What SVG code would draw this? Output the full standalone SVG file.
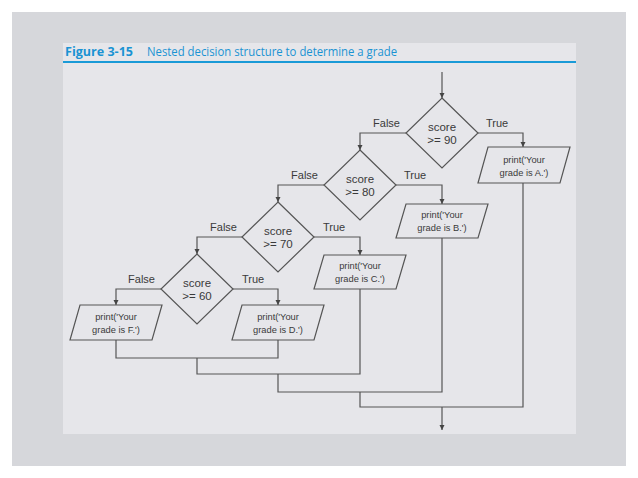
<svg xmlns="http://www.w3.org/2000/svg" width="638" height="478" viewBox="0 0 638 478">
<defs>
<style>
.dia{fill:none;stroke:#555;stroke-width:1.2}
.box{fill:none;stroke:#555;stroke-width:1.2}
.ln{fill:none;stroke:#555;stroke-width:1.2}
.lab{font-family:"Liberation Sans",Arial,sans-serif;font-size:11px;fill:#3a3a3a}
.cond{font-family:"Liberation Sans",Arial,sans-serif;font-size:11.5px;fill:#3a3a3a;text-anchor:middle}
.pr{font-family:"Liberation Sans",Arial,sans-serif;font-size:9.3px;fill:#3a3a3a;text-anchor:middle}
.ttl{font-family:"Open Sans","Liberation Sans",sans-serif;font-size:12.5px;fill:#1a93d3}
</style>
<marker id="ah" viewBox="0 0 10 10" refX="10" refY="5" markerWidth="5" markerHeight="6" markerUnits="userSpaceOnUse" orient="auto">
<path d="M0,0 L10,5 L0,10 z" fill="#444"/>
</marker>
</defs>
<rect x="0" y="0" width="638" height="478" fill="#ffffff"/>
<rect x="12" y="12" width="614" height="454" fill="#d6d7db"/>
<rect x="63" y="43" width="513" height="391" fill="#e6e6ea"/>
<g id="title">
<text class="ttl" x="65" y="56" font-weight="bold" textLength="68" lengthAdjust="spacingAndGlyphs">Figure 3-15</text>
<text class="ttl" x="147" y="56" textLength="250" lengthAdjust="spacingAndGlyphs">Nested decision structure to determine a grade</text>
<rect x="63" y="61" width="513" height="2" fill="#1a9ad7"/>
</g>
<g id="connectors">
<path class="ln" d="M442,72 V98" marker-end="url(#ah)"/>
<path class="ln" d="M478,133 H523 V147" marker-end="url(#ah)"/>
<path class="ln" d="M406,133 H360 V150" marker-end="url(#ah)"/>
<path class="ln" d="M396,185 H442 V204" marker-end="url(#ah)"/>
<path class="ln" d="M324,185 H278 V202" marker-end="url(#ah)"/>
<path class="ln" d="M314,237 H360 V255" marker-end="url(#ah)"/>
<path class="ln" d="M243,237 H197 V254" marker-end="url(#ah)"/>
<path class="ln" d="M233,289 H278 V305" marker-end="url(#ah)"/>
<path class="ln" d="M162,289 H116 V305" marker-end="url(#ah)"/>
<path class="ln" d="M116,340 V358 H278 V340"/>
<path class="ln" d="M197,358 V374 H360 V289"/>
<path class="ln" d="M278,374 V392 H442 V238"/>
<path class="ln" d="M360,392 V407 H523 V183"/>
<path class="ln" d="M442,407 V430" marker-end="url(#ah)"/>
<text class="lab" x="400" y="127" text-anchor="end">False</text>
<text class="lab" x="486" y="127">True</text>
<text class="lab" x="318" y="179" text-anchor="end">False</text>
<text class="lab" x="404" y="179">True</text>
<text class="lab" x="237" y="231" text-anchor="end">False</text>
<text class="lab" x="323" y="231">True</text>
<text class="lab" x="155" y="283" text-anchor="end">False</text>
<text class="lab" x="242" y="283">True</text>
</g>
<g id="d90">
<polygon class="dia" points="442,98 478,133 442,168 406,133"/>
<text class="cond" x="442" y="131">score</text>
<text class="cond" x="442" y="144">&gt;= 90</text>
</g>
<g id="d80">
<polygon class="dia" points="360,150 396,185 360,220 324,185"/>
<text class="cond" x="360" y="183">score</text>
<text class="cond" x="360" y="196">&gt;= 80</text>
</g>
<g id="d70">
<polygon class="dia" points="278,202 314,237 278,272 242,237"/>
<text class="cond" x="278" y="235">score</text>
<text class="cond" x="278" y="248">&gt;= 70</text>
</g>
<g id="d60">
<polygon class="dia" points="197,254 233,289 197,324 161,289"/>
<text class="cond" x="197" y="287">score</text>
<text class="cond" x="197" y="300">&gt;= 60</text>
</g>
<g id="pA">
<polygon class="box" points="488,147 570,147 560,183 478,183"/>
<text class="pr" x="524" y="163">print('Your</text>
<text class="pr" x="524" y="176">grade is A.')</text>
</g>
<g id="pB">
<polygon class="box" points="406,204 488,204 478,238 396,238"/>
<text class="pr" x="442" y="218">print('Your</text>
<text class="pr" x="442" y="231">grade is B.')</text>
</g>
<g id="pC">
<polygon class="box" points="324,255 406,255 396,289 314,289"/>
<text class="pr" x="360" y="269">print('Your</text>
<text class="pr" x="360" y="282">grade is C.')</text>
</g>
<g id="pD">
<polygon class="box" points="242,305 324,305 314,340 232,340"/>
<text class="pr" x="278" y="320">print('Your</text>
<text class="pr" x="278" y="333">grade is D.')</text>
</g>
<g id="pF">
<polygon class="box" points="80,305 162,305 152,340 70,340"/>
<text class="pr" x="116" y="320">print('Your</text>
<text class="pr" x="116" y="333">grade is F.')</text>
</g>
</svg>
